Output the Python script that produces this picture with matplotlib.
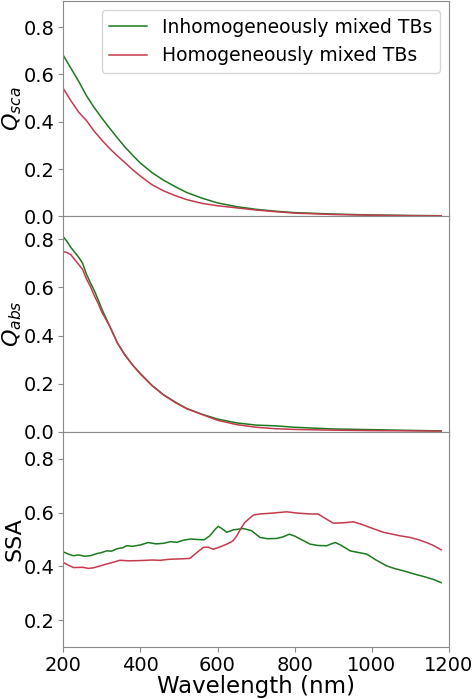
import numpy as np
import matplotlib
matplotlib.use("Agg")
import matplotlib.pyplot as plt

#%% data

# Q_sca panel
wl_sca = [200, 220, 240, 260, 280, 300, 320, 340, 360, 380, 400, 430, 460, 490,
          520, 560, 600, 650, 700, 750, 800, 900, 1000, 1100, 1180]
sca_inhom = [0.680, 0.625, 0.570, 0.510, 0.460, 0.415, 0.373, 0.332, 0.293, 0.258,
             0.225, 0.185, 0.153, 0.126, 0.101, 0.077, 0.057, 0.041, 0.030, 0.022,
             0.016, 0.010, 0.006, 0.004, 0.003]
sca_hom = [0.540, 0.488, 0.440, 0.405, 0.360, 0.322, 0.287, 0.256, 0.227, 0.197,
           0.170, 0.134, 0.108, 0.088, 0.071, 0.055, 0.045, 0.036, 0.027, 0.020,
           0.014, 0.008, 0.005, 0.003, 0.002]

# Q_abs panel
wl_abs = [200, 210, 220, 230, 240, 250, 260, 270, 280, 290, 300, 320, 340, 360,
          380, 400, 430, 460, 490, 520, 560, 600, 650, 700, 750, 800, 900, 1000,
          1100, 1180]
abs_inhom = [0.810, 0.790, 0.765, 0.745, 0.725, 0.700, 0.655, 0.620, 0.588, 0.550,
             0.510, 0.440, 0.370, 0.320, 0.277, 0.242, 0.193, 0.154, 0.124, 0.097,
             0.073, 0.053, 0.037, 0.028, 0.025, 0.019, 0.012, 0.009, 0.006, 0.004]
abs_hom = [0.748, 0.745, 0.735, 0.715, 0.695, 0.675, 0.635, 0.605, 0.567, 0.535,
           0.497, 0.440, 0.370, 0.318, 0.277, 0.240, 0.192, 0.153, 0.122, 0.096,
           0.072, 0.048, 0.030, 0.019, 0.013, 0.010, 0.007, 0.005, 0.004, 0.003]

# SSA panel
wl_ssa_inhom = [200, 215, 226, 240, 255, 270, 285, 300, 312, 325, 340, 355, 364, 380,
                400, 420, 440, 460, 477, 495, 510, 530, 550, 565, 580, 595, 602, 612,
                624, 641, 667, 688, 710, 730, 753, 770, 786, 800, 820, 840, 860, 883,
                895, 905, 920, 944, 965, 987, 1010, 1039, 1060, 1082, 1110, 1134,
                1160, 1180]
ssa_inhom = [0.454, 0.445, 0.440, 0.443, 0.438, 0.440, 0.447, 0.452, 0.458, 0.457,
             0.466, 0.470, 0.477, 0.475, 0.480, 0.489, 0.484, 0.486, 0.492, 0.490,
             0.497, 0.502, 0.500, 0.499, 0.514, 0.540, 0.549, 0.540, 0.527, 0.536,
             0.541, 0.533, 0.508, 0.503, 0.504, 0.510, 0.520, 0.513, 0.498, 0.483,
             0.478, 0.477, 0.484, 0.489, 0.479, 0.458, 0.452, 0.446, 0.425, 0.402,
             0.392, 0.384, 0.372, 0.363, 0.352, 0.340]
wl_ssa_hom = [200, 213, 226, 250, 265, 278, 295, 312, 330, 347, 370, 400, 430, 451,
              477, 500, 528, 545, 563, 575, 589, 605, 624, 640, 650, 660, 671, 684,
              693, 710, 740, 779, 810, 840, 861, 880, 900, 925, 952, 975, 995, 1030,
              1073, 1099, 1120, 1142, 1160, 1180]
ssa_hom = [0.415, 0.405, 0.396, 0.397, 0.393, 0.395, 0.402, 0.409, 0.416, 0.423,
           0.421, 0.422, 0.424, 0.423, 0.427, 0.428, 0.430, 0.450, 0.471, 0.472,
           0.464, 0.472, 0.483, 0.495, 0.514, 0.540, 0.564, 0.580, 0.591, 0.595,
           0.598, 0.603, 0.598, 0.595, 0.595, 0.578, 0.561, 0.562, 0.566, 0.556,
           0.545, 0.527, 0.514, 0.508, 0.500, 0.489, 0.478, 0.462]

labels = ["Inhomogeneously mixed TBs", "Homogeneously mixed TBs"]
c_inhom = "#1b7a1e"
c_hom = "#c63a4e"

#%% plot

fig, (ax0, ax1, ax2) = plt.subplots(nrows=3, sharex=True, figsize=(4.74, 6.99), dpi=100)
fig.subplots_adjust(left=0.1336, right=0.947, top=0.9986, bottom=0.074, hspace=0)

ax0.plot(wl_sca, sca_inhom, color=c_inhom, linewidth=1.1, label=labels[0])
ax0.plot(wl_sca, sca_hom, color=c_hom, linewidth=1.1, label=labels[1])
ax0.set_ylim(0, 0.91)
ax0.set_ylabel(r"$Q_{sca}$", fontsize=16)
ax0.legend(loc="upper right", fontsize=13.5)

ax1.plot(wl_abs, abs_inhom, color=c_inhom, linewidth=1.1)
ax1.plot(wl_abs, abs_hom, color=c_hom, linewidth=1.1)
ax1.set_ylim(0, 0.895)
ax1.set_ylabel(r"$Q_{abs}$", fontsize=16)

ax2.plot(wl_ssa_inhom, ssa_inhom, color=c_inhom, linewidth=1.1)
ax2.plot(wl_ssa_hom, ssa_hom, color=c_hom, linewidth=1.1)
ax2.set_ylim(0.1, 0.9)
ax2.set_ylabel("SSA", fontsize=16)
ax2.set_xlabel("Wavelength (nm)", fontsize=16.5, labelpad=0)

ax2.set_xlim(200, 1200)
ax2.set_xticks([200, 400, 600, 800, 1000, 1200])

for ax in (ax0, ax1):
    ax.set_yticks([0.0, 0.2, 0.4, 0.6, 0.8])
ax2.set_yticks([0.2, 0.4, 0.6, 0.8])

for ax in (ax0, ax1, ax2):
    for s in ax.spines.values():
        s.set_color("#8a8a8a")
    ax.tick_params(labelsize=14, color="#8a8a8a", pad=2.5)
    ax.yaxis.set_label_coords(-0.102, 0.5)

fig.savefig("out.png", dpi=100)
